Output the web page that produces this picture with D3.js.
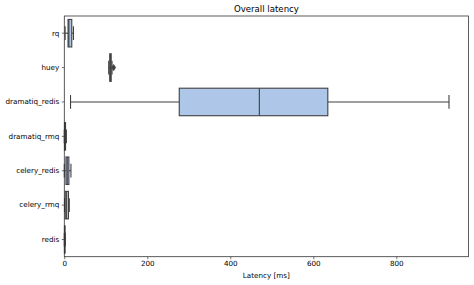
<!DOCTYPE html>
<html>
<head>
<meta charset="utf-8">
<script src="https://d3js.org/d3.v7.min.js"></script>
<style>
  body { margin: 0; background: #fff; }
  text { font-family: "DejaVu Sans", sans-serif; fill: #000; }
</style>
</head>
<body>
<div id="chart"></div>
<script>
// latency boxplot values (ms)
var categories = ["rq", "huey", "dramatiq_redis", "dramatiq_rmq", "celery_redis", "celery_rmq", "redis"];
var whiskerLow  = [2,   107,   15,  0,   0,   0.5, 0];
var q1          = [9,   109.5, 277, 0.5, 4,   2,   0.4];
var median      = [11,  111,   470, 1.5, 7,   5,   1];
var q3          = [18,  113,   635, 3,   11,  10,  1.6];
var whiskerHigh = [22,  115,   927, 5,   16,  12,  2.5];
var outliers    = [[], [119], [], [], [], [], []];
var xTicks = [0, 200, 400, 600, 800];

var W = 474, H = 285;
var margin = {top: 16, right: 5.5, bottom: 28.3, left: 64.3};
var width = W - margin.left - margin.right;
var height = H - margin.top - margin.bottom;

var boxFill = "#aec7e8";
var edge = "#3f3f3f";

var x = d3.scaleLinear()
          .domain([0, 974])
          .range([0, width]);

var y = d3.scaleBand()
          .domain(categories)
          .range([0, height])
          .padding(0);

var svg = d3.select("#chart")
            .append("svg")
              .attr("width", W)
              .attr("height", H)
            .append("g")
              .attr("transform", "translate(" + margin.left + "," + margin.top + ")");

var bw = y.bandwidth() * 0.8;

var boxes = svg.append("g");
categories.forEach(function(c, i){
  var cy = y(c) + y.bandwidth() / 2;
  var g = boxes.append("g");
  // whiskers
  g.append("line")
    .attr("x1", x(whiskerLow[i])).attr("x2", x(q1[i]))
    .attr("y1", cy).attr("y2", cy)
    .attr("stroke", edge).attr("stroke-width", 1.1);
  g.append("line")
    .attr("x1", x(q3[i])).attr("x2", x(whiskerHigh[i]))
    .attr("y1", cy).attr("y2", cy)
    .attr("stroke", edge).attr("stroke-width", 1.1);
  // caps
  [whiskerLow[i], whiskerHigh[i]].forEach(function(v){
    g.append("line")
      .attr("x1", x(v)).attr("x2", x(v))
      .attr("y1", cy - bw / 4).attr("y2", cy + bw / 4)
      .attr("stroke", edge).attr("stroke-width", 1.1);
  });
  // box
  g.append("rect")
    .attr("x", x(q1[i]))
    .attr("y", cy - bw / 2)
    .attr("width", Math.max(0.5, x(q3[i]) - x(q1[i])))
    .attr("height", bw)
    .attr("fill", boxFill)
    .attr("stroke", edge)
    .attr("stroke-width", 1.1);
  // median
  g.append("line")
    .attr("x1", x(median[i])).attr("x2", x(median[i]))
    .attr("y1", cy - bw / 2).attr("y2", cy + bw / 2)
    .attr("stroke", edge).attr("stroke-width", 1.1);
  // outliers
  outliers[i].forEach(function(v){
    g.append("path")
      .attr("d", "M0,-3.2 L2,0 L0,3.2 L-2,0 Z")
      .attr("transform", "translate(" + x(v) + "," + cy + ")")
      .attr("fill", edge)
      .attr("stroke", edge)
      .attr("stroke-width", 0.6);
  });
});

// frame
svg.append("rect")
   .attr("x", 0).attr("y", 0)
   .attr("width", width).attr("height", height)
   .attr("fill", "none")
   .attr("stroke", "#333")
   .attr("stroke-width", 0.8);

var xAxis = svg.append("g")
   .attr("transform", "translate(0," + height + ")")
   .call(d3.axisBottom(x).tickValues(xTicks).tickSize(2.5).tickPadding(2).tickFormat(d3.format("d")));
xAxis.select(".domain").remove();
xAxis.selectAll("text").style("font-size", "7.2px");

var yAxis = svg.append("g")
   .call(d3.axisLeft(y).tickSize(2.5).tickPadding(2.5));
yAxis.select(".domain").remove();
yAxis.selectAll("text").style("font-size", "7.2px");

svg.selectAll(".tick line").attr("stroke", "#333").attr("stroke-width", 0.7);

svg.append("text")
   .attr("x", width / 2)
   .attr("y", height + 21)
   .style("text-anchor", "middle")
   .style("font-size", "7.2px")
   .text("Latency [ms]");

svg.append("text")
   .attr("x", width / 2)
   .attr("y", -4)
   .style("text-anchor", "middle")
   .style("font-size", "8.6px")
   .text("Overall latency");
</script>
</body>
</html>
